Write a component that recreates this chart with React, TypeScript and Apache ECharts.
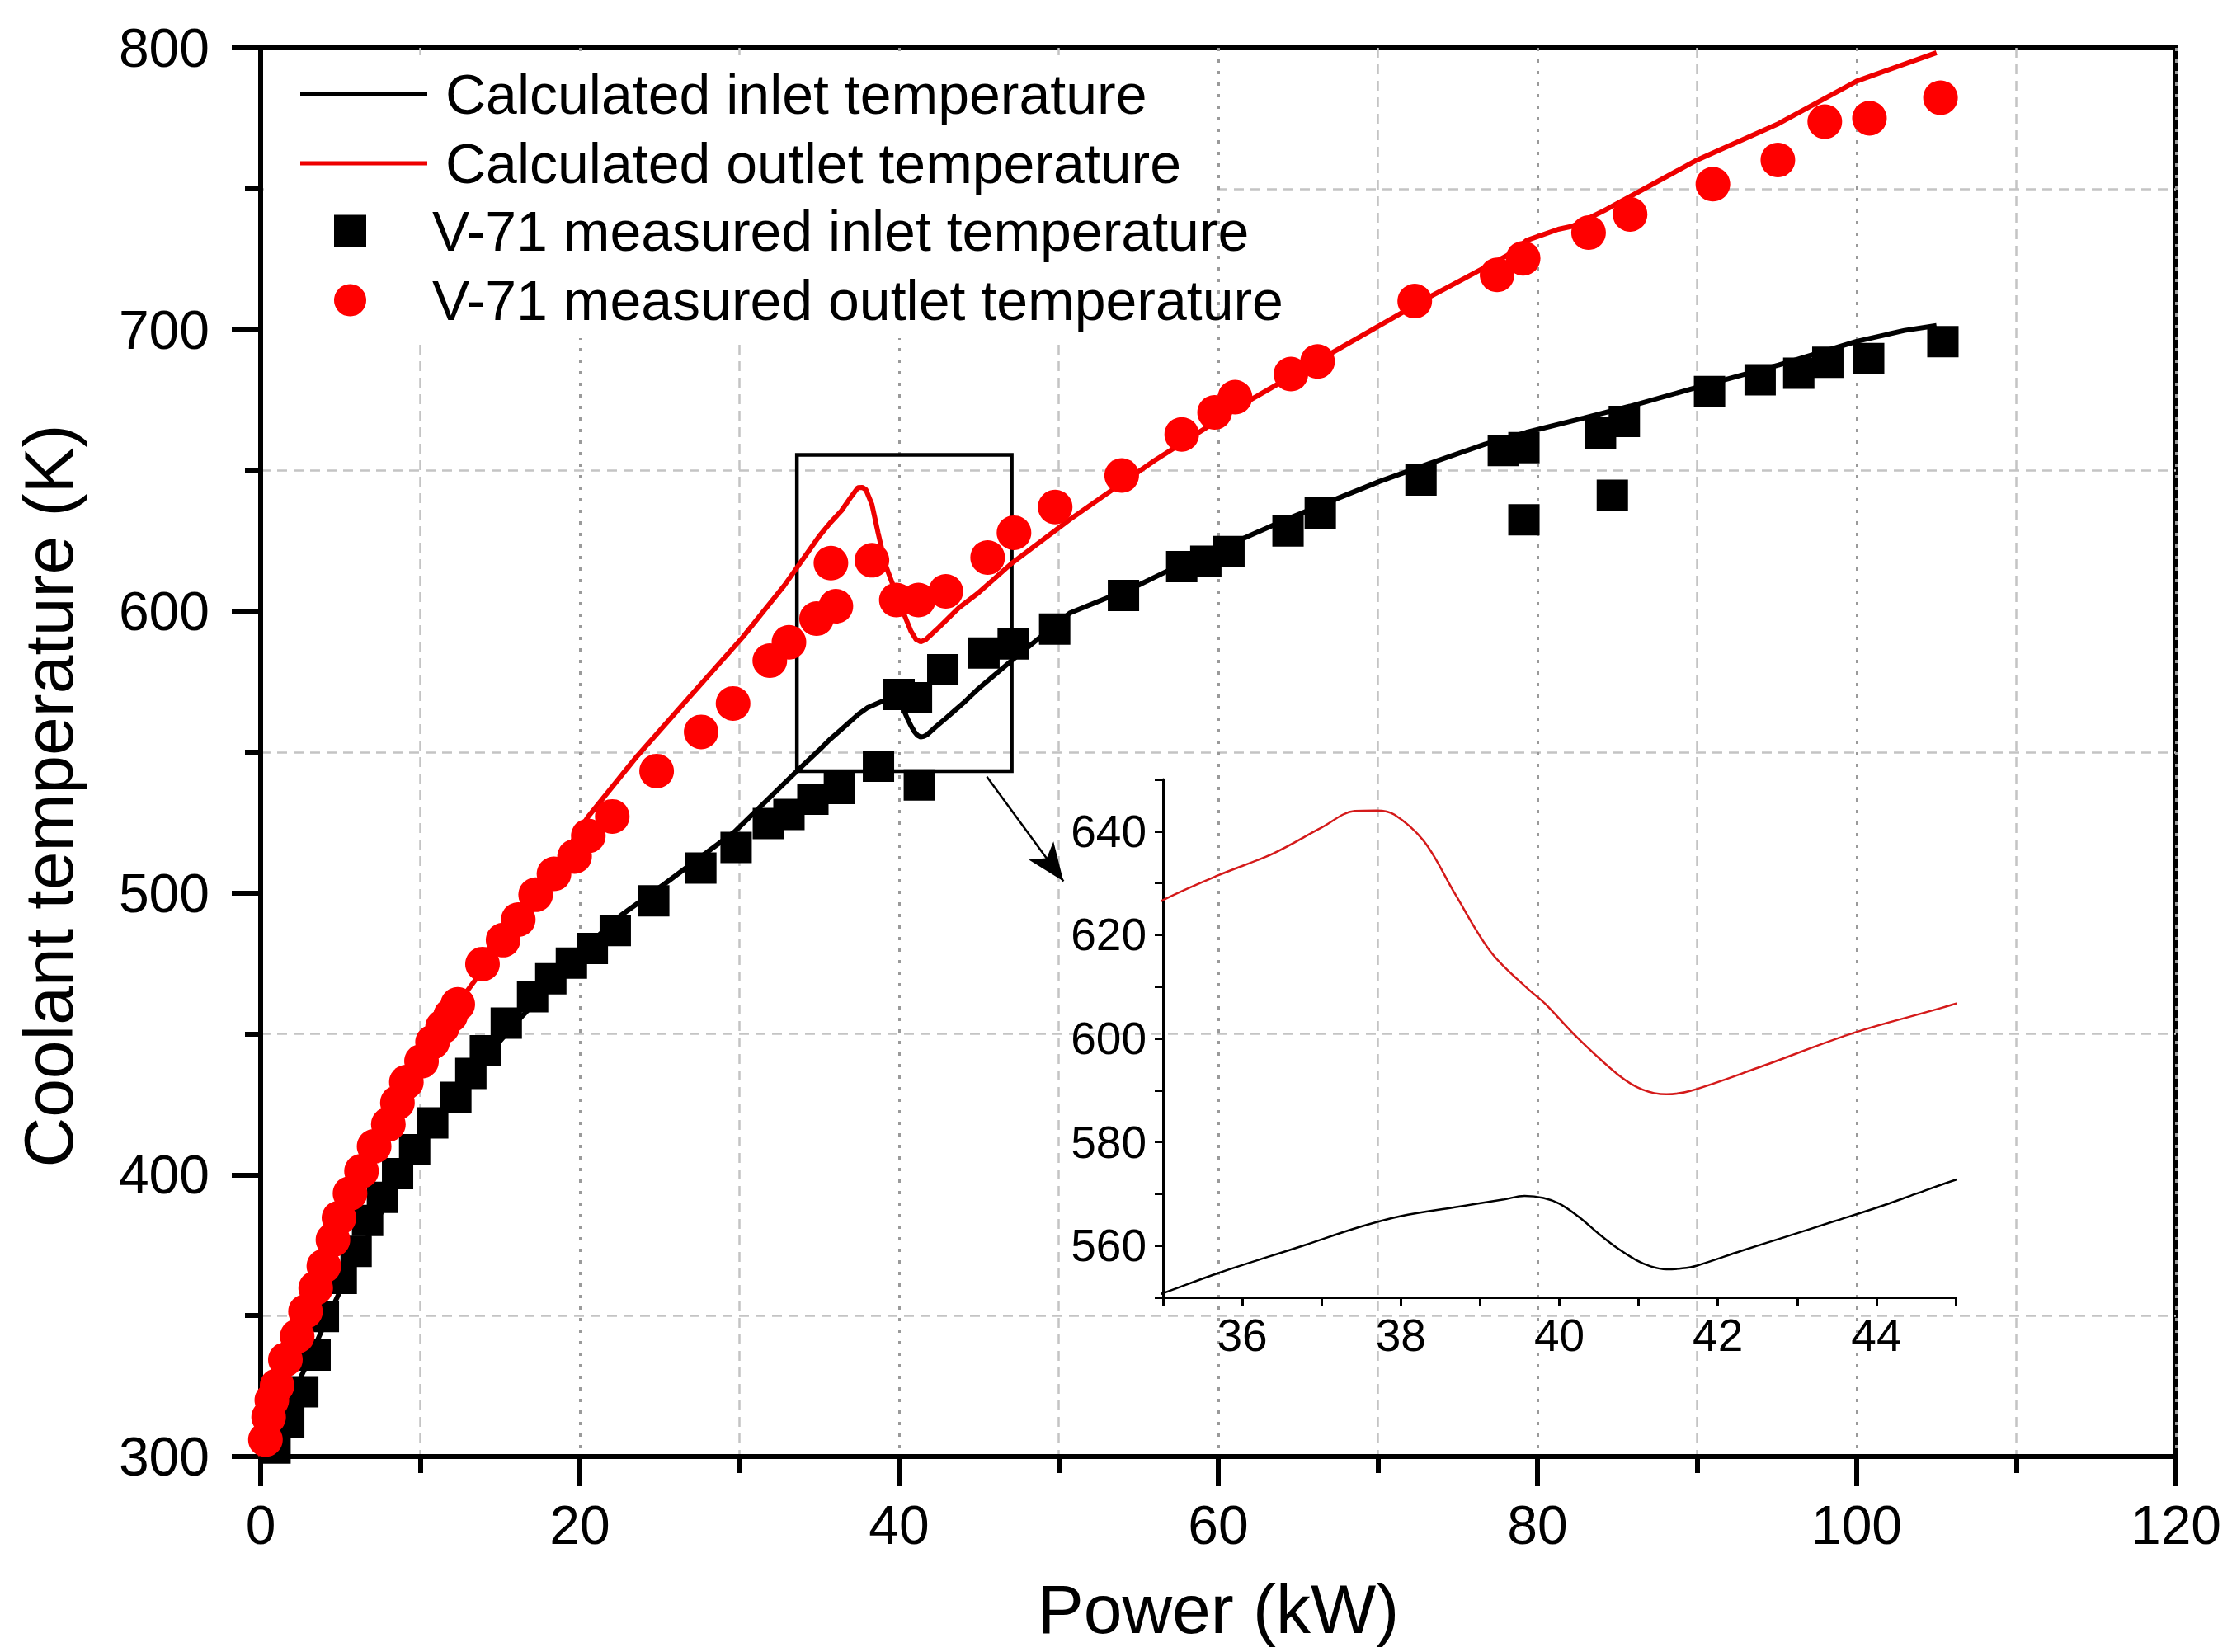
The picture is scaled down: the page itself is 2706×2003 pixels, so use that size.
import React, { useEffect, useRef } from "react";
import * as echarts from "echarts";

// ---------- data ----------
const legendLines = ["Calculated inlet temperature", "Calculated outlet temperature"];
const legendPoints = ["V-71 measured inlet temperature", "V-71 measured outlet temperature"];

const inletCalc: [number, number][] = [
  [0, 300], [0.5, 305], [1, 311], [2, 322], [3, 334], [4, 347], [5, 359], [6, 370], [7, 381], [8, 391],
  [9, 401], [10, 410], [12, 427], [14, 441], [16, 454], [18, 466], [20, 479], [22.6, 492.2], [25.2, 502.8],
  [29.7, 521.8], [33.6, 543.3], [35, 550.8], [35.7, 554.7], [36.77, 560.0], [37.46, 563.5], [38, 565.7],
  [38.68, 567.4], [39.3, 568.9], [39.56, 569.6], [39.8, 569.2], [40.0, 568.1], [40.25, 565.5], [40.51, 562.1],
  [40.75, 559.3], [40.97, 557.2], [41.15, 556.0], [41.35, 555.4], [41.55, 555.6], [41.73, 556.1], [42.3, 559],
  [42.88, 561.8], [43.45, 564.6], [44.02, 567.4], [44.5, 570], [45, 572.7], [47.05, 582.5], [50.7, 599.4],
  [55, 609.3], [56.7, 614], [59.6, 621.5], [61.5, 625.7], [64, 632], [67.4, 639.9], [70.15, 646.2],
  [73.25, 652.5], [76.7, 659.3], [79.3, 663.5], [82.9, 668.6], [85.8, 672.8], [90, 679.5], [95.1, 687.4],
  [100, 695.8], [103, 699.7], [105, 701.4],
];

const outletCalc: [number, number][] = [
  [0, 300], [0.3, 309], [1, 324], [2, 340], [3, 354], [4, 368], [5, 382], [6, 395], [7, 406], [8, 417],
  [9, 428], [10, 439], [11, 449], [12, 458], [13.13, 466.7], [15, 481], [17.5, 500], [20.5, 527], [23.5, 548],
  [26.7, 568.5], [30.2, 590.8], [32.8, 609.1], [35, 626.7], [35.7, 631.5], [36.39, 635.7], [37.0, 640.7],
  [37.42, 643.9], [37.69, 644.0], [37.92, 643.2], [38.3, 637.9], [38.68, 628.0], [39.14, 616.6], [39.6, 609.6],
  [39.82, 606.7], [40.21, 600.4], [40.74, 593.0], [41.05, 590.1], [41.35, 589.2], [41.66, 589.9], [42.5, 594.3],
  [43.72, 601.1], [45, 606.7], [47.05, 617], [50.7, 632.6], [52.9, 641.3], [56, 653.5], [61.7, 674],
  [67.2, 692], [73.25, 711.6], [78.4, 727.2], [79.3, 731.6], [81.3, 735.6], [82.2, 736.7], [84.2, 742.3],
  [90, 760.2], [95.1, 773.1], [100, 788.2], [105, 798.3],
];

const inletMeas: [number, number][] = [
  [0.9, 303], [1.76, 312.1], [2.64, 323.0], [3.41, 336.0], [3.93, 349.7], [5.05, 363.2], [5.98, 372.8],
  [6.7, 383.8], [7.63, 392.0], [8.58, 400.4], [9.65, 408.9], [10.78, 418.4], [12.23, 427.5], [13.17, 436],
  [14.08, 444], [15.39, 453.8], [17.04, 463.2], [18.18, 469.6], [19.47, 475.1], [20.78, 480.3], [22.22, 486.7],
  [24.63, 497.2], [27.58, 508.9], [29.79, 516.2], [31.81, 524.7], [33.1, 527.9], [34.6, 533.3], [36.26, 537.1],
  [38.71, 545.0], [41.27, 538.4], [40.0, 570.5], [41.09, 569.3], [42.74, 579.3], [45.32, 585.2], [47.15, 588.4],
  [49.75, 593.7], [54.06, 605.6], [57.71, 615.9], [59.22, 617.8], [60.67, 621.2], [64.37, 628.5], [66.39, 634.9],
  [72.7, 646.6], [77.86, 657.1], [79.15, 658.1], [79.15, 632.5], [83.95, 663.3], [84.69, 641.2], [85.44, 667.4],
  [90.78, 678.0], [93.95, 682.2], [96.37, 684.5], [98.19, 688.4], [100.75, 689.7], [105.4, 695.7],
];

const outletMeas: [number, number][] = [
  [0.3, 306], [0.5, 314], [0.7, 320], [1.03, 325.2], [1.55, 334.4], [2.29, 342.7], [2.81, 351.5], [3.45, 359.8],
  [3.96, 367.6], [4.53, 376.9], [4.91, 384.7], [5.6, 393.4], [6.32, 401.3], [7.11, 410.1], [8.0, 417.9],
  [8.57, 425.6], [9.13, 432.9], [10.08, 440.3], [10.77, 447.1], [11.4, 452.5], [11.9, 456.5], [12.35, 460.5],
  [13.9, 474.8], [15.19, 483.3], [16.14, 490.6], [17.23, 499.4], [18.38, 506.8], [19.67, 513.0], [20.53, 520.3],
  [22.03, 527.2], [24.81, 543.3], [27.6, 557.2], [29.6, 567.3], [31.9, 582.5], [33.1, 589.0], [34.83, 597.4],
  [36.04, 601.8], [35.73, 617.1], [38.3, 618.1], [39.83, 604.0], [41.21, 604.0], [42.93, 607.1], [45.55, 619.1],
  [47.2, 627.9], [49.78, 637.0], [53.95, 648.2], [57.71, 662.8], [59.77, 670.6], [61.05, 676.0], [64.55, 684.2],
  [66.22, 688.7], [72.31, 710.1], [77.47, 719.4], [79.1, 725.3], [83.2, 734.4], [85.8, 740.9], [90.99, 751.6],
  [95.06, 760.2], [98.0, 773.8], [100.8, 775.0], [105.25, 782.3],
];

// zoom box (data coords) and arrow
const zoomBox: [number, number][] = [[33.6, 655.5], [47.06, 543.3]];
const arrowLine: [number, number][] = [[45.5, 541.3], [50.3, 504.2]];

// axis ranges
const mainX = { min: 0, max: 120, interval: 20 };
const mainY = { min: 300, max: 800, interval: 100 };
const insetX = { min: 35, max: 45, interval: 1 };
const insetY = { min: 550, max: 650, interval: 10 };

const FONT = "'Liberation Sans', Arial, sans-serif";

export default function App() {
  const ref = useRef<HTMLDivElement>(null);
  useEffect(() => {
    const chart = echarts.init(ref.current!, null, { renderer: "svg" });
    const tick = { lineStyle: { color: "#000", width: 6 } };
    const option: any = {
      animation: false,
      backgroundColor: "#fff",
      grid: [
        { left: 316, top: 58, width: 2322, height: 1708, show: true, borderColor: "#000", borderWidth: 6, backgroundColor: "transparent" },
        { left: 1410, top: 945, width: 961, height: 628 },
      ],
      legend: [
        {
          data: legendLines,
          orient: "vertical",
          left: 320,
          top: 67,
          padding: [13, 40, 178, 44],
          icon: "rect",
          itemWidth: 154,
          itemHeight: 5,
          itemGap: 16,
          backgroundColor: "#fff",
          selectedMode: false,
          textStyle: { fontSize: 68, color: "#000", fontFamily: FONT, padding: [0, 0, 0, 17] },
        },
        {
          data: legendPoints,
          orient: "vertical",
          left: 405,
          top: 246,
          padding: 0,
          itemWidth: 39,
          itemHeight: 39,
          itemGap: 16,
          selectedMode: false,
          textStyle: { fontSize: 68, color: "#000", fontFamily: FONT, padding: [0, 0, 0, 75] },
        },
      ],
      xAxis: [
        {
          type: "value",
          gridIndex: 0,
          ...mainX,
          axisLine: { lineStyle: { color: "#000", width: 6 } },
          axisTick: { length: 36, ...tick },
          minorTick: { show: true, splitNumber: 2, length: 20, ...tick },
          splitLine: { show: true, lineStyle: { color: "#9a9a9a", type: [4, 10], width: 3 } },
          minorSplitLine: { show: true, lineStyle: { color: "#c4c4c4", type: [12, 8], width: 2.5 } },
          axisLabel: { fontSize: 66, color: "#000", fontFamily: FONT, margin: 50 },
          name: "Power (kW)",
          nameLocation: "middle",
          nameGap: 143,
          nameTextStyle: { fontSize: 84, color: "#000", fontFamily: FONT },
        },
        {
          type: "value",
          gridIndex: 1,
          ...insetX,
          axisLine: { lineStyle: { color: "#000", width: 3 } },
          axisTick: { length: 11, lineStyle: { color: "#000", width: 3 } },
          splitLine: { show: false },
          axisLabel: {
            fontSize: 55, color: "#000", fontFamily: FONT, margin: 18,
            formatter: (v: number) => (Math.round(v) % 2 === 0 ? String(v) : ""),
          },
        },
      ],
      yAxis: [
        {
          type: "value",
          gridIndex: 0,
          ...mainY,
          axisLine: { lineStyle: { color: "#000", width: 6 } },
          axisTick: { length: 35, ...tick },
          minorTick: { show: true, splitNumber: 2, length: 19, ...tick },
          splitLine: { show: false },
          minorSplitLine: { show: true, lineStyle: { color: "#c4c4c4", type: [12, 8], width: 2.5 } },
          axisLabel: { fontSize: 66, color: "#000", fontFamily: FONT, margin: 62 },
          name: "Coolant temperature (K)",
          nameLocation: "middle",
          nameGap: 215,
          nameTextStyle: { fontSize: 84, color: "#000", fontFamily: FONT, padding: [0, 106, 0, 0] },
        },
        {
          type: "value",
          gridIndex: 1,
          ...insetY,
          axisLine: { show: true, lineStyle: { color: "#000", width: 3 } },
          axisTick: { show: true, length: 10, lineStyle: { color: "#000", width: 3 } },
          splitLine: { show: false },
          axisLabel: {
            fontSize: 55, color: "#000", fontFamily: FONT, margin: 20,
            formatter: (v: number) => (Math.round(v) % 20 === 0 ? String(v) : ""),
          },
        },
      ],
      series: [
        {
          name: legendLines[0],
          type: "line",
          xAxisIndex: 0,
          yAxisIndex: 0,
          data: inletCalc,
          symbol: "none",
          color: "#000",
          lineStyle: { color: "#000", width: 6 },
          z: 2,
          markArea: {
            silent: true,
            itemStyle: { color: "rgba(0,0,0,0)", borderColor: "#000", borderWidth: 4.5 },
            label: { show: false },
            data: [[{ coord: zoomBox[0] }, { coord: zoomBox[1] }]],
          },
          markLine: {
            silent: true,
            symbol: ["none", "arrow"],
            symbolSize: [28, 46],
            label: { show: false },
            lineStyle: { color: "#000", width: 2.5, type: "solid" },
            data: [[{ coord: arrowLine[0] }, { coord: arrowLine[1] }]],
          },
        },
        {
          name: legendLines[1],
          type: "line",
          xAxisIndex: 0,
          yAxisIndex: 0,
          data: outletCalc,
          symbol: "none",
          color: "#ee0000",
          lineStyle: { color: "#ee0000", width: 6 },
          z: 2,
        },
        {
          name: legendPoints[0],
          type: "scatter",
          xAxisIndex: 0,
          yAxisIndex: 0,
          data: inletMeas,
          symbol: "rect",
          symbolSize: 38,
          color: "#000",
          itemStyle: { color: "#000", opacity: 1 },
          z: 3,
        },
        {
          name: legendPoints[1],
          type: "scatter",
          xAxisIndex: 0,
          yAxisIndex: 0,
          data: outletMeas,
          symbol: "circle",
          symbolSize: 42,
          color: "#ff0000",
          itemStyle: { color: "#ff0000", opacity: 1 },
          z: 4,
        },
        {
          name: "inset inlet",
          type: "line",
          xAxisIndex: 1,
          yAxisIndex: 1,
          data: inletCalc,
          symbol: "none",
          smooth: 0.35,
          clip: true,
          lineStyle: { color: "#000", width: 2.5 },
          z: 5,
        },
        {
          name: "inset outlet",
          type: "line",
          xAxisIndex: 1,
          yAxisIndex: 1,
          data: outletCalc,
          symbol: "none",
          smooth: 0.35,
          clip: true,
          lineStyle: { color: "#d41a1a", width: 2.5 },
          z: 5,
        },
      ],
    };
    chart.setOption(option);
    return () => chart.dispose();
  }, []);
  return (
    <div
      ref={ref}
      style={{ position: "fixed", left: 0, top: 0, width: 2706, height: 2003, background: "#fff" }}
    />
  );
}
